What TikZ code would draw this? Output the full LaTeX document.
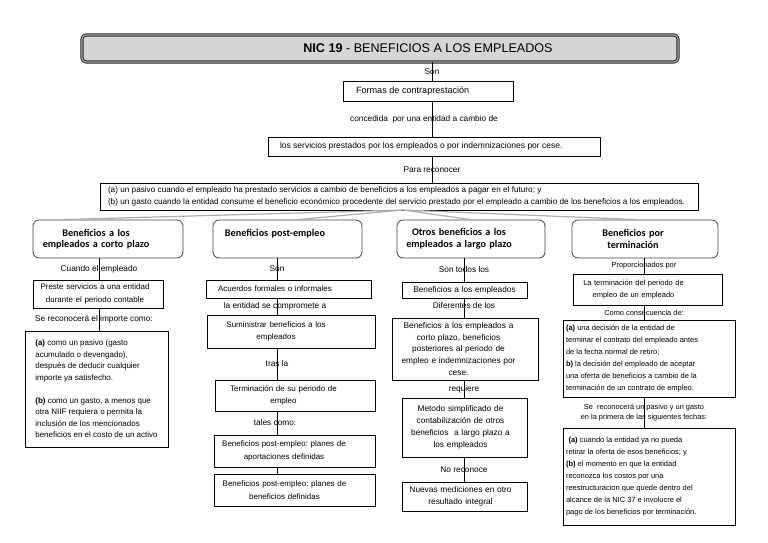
\documentclass[tikz,border=0pt]{standalone}
\usepackage{fontspec}
\setmainfont{Liberation Sans}
\newfontfamily\calibfont{Carlito}
\usetikzlibrary{positioning}
\frenchspacing

\tikzset{
  titlebar/.style = {draw=black!85, line width=0.9pt, double=gray!70, double distance=1.3pt,
    fill=gray!32, rounded corners=4pt, minimum width=596pt, minimum height=27pt,
    font=\fontsize{12.6}{15}\selectfont},
  box/.style = {draw, line width=0.7pt, fill=white, inner xsep=0pt, inner ysep=1pt,
    font=\fontsize{8}{12.5}\selectfont},
  box3/.style = {box, font=\fontsize{8.3}{11.8}\selectfont},
  box4/.style = {box, font=\fontsize{7.5}{12.1}\selectfont},
  cat/.style = {draw=black!75, line width=0.8pt, rounded corners=6pt, minimum height=38pt,
    inner xsep=0pt, font=\calibfont\bfseries\fontsize{10.2}{11.5}\selectfont},
  pushl/.style = {align=center, execute at begin node={%
    \leftskip=0pt plus 1fil\rightskip=#1 plus 1fil\parfillskip=0pt\relax}},
  lbl/.style = {inner sep=1pt, font=\fontsize{8.3}{9.5}\selectfont},
  lbl4/.style = {lbl, font=\fontsize{7.4}{9.5}\selectfont},
  link/.style = {line width=0.6pt},
  fan/.style = {draw=gray!65, line width=1.2pt}
}

\begin{document}
\begin{tikzpicture}[on grid]
  \useasboundingbox (0pt,0pt) rectangle (768pt,-543pt);

  \node[titlebar] (t_0) at (380pt,-48.5pt) {\hspace*{96pt}\textbf{NIC 19} - BENEFICIOS A LOS EMPLEADOS};
  \coordinate[right=52pt of t_0] (ax);
  \node[box, below=42.5pt of t_0, xshift=48pt, text width=144pt, inner xsep=13pt, align=flush left,
        minimum height=20pt, font=\fontsize{9.1}{11}\selectfont] (t_1) {Formas de contraprestación};
  \node[box, below=55.5pt of t_1, xshift=6pt, text width=308pt, inner xsep=12pt, align=flush left,
        minimum height=19pt, font=\fontsize{8.5}{10}\selectfont] (t_2)
        {los servicios prestados por los empleados o por indemnizaciones por cese.};
  \node[box, below=50pt of t_2, xshift=-35pt, text width=582pt, inner xsep=8pt, align=flush left,
        minimum height=27pt, font=\fontsize{8.2}{12.5}\selectfont] (t_3)
        {(a) un pasivo cuando el empleado ha prestado servicios a cambio de beneficios a los empleados a pagar en el futuro; y\\
         (b) un gasto cuando la entidad consume el beneficio económico procedente del servicio prestado por el empleado a cambio de los beneficios a los empleados.};
  \coordinate[below=13.5pt of t_3, xshift=4pt] (f);

  \node[cat, below left=42.5pt and 291pt of t_3, text width=150pt, pushl=24pt] (c_1) {Beneficios a los\\empleados a corto plazo};
  \node[cat, right=179.5pt of c_1, text width=149pt, pushl=25pt]               (c_2) {Beneficios post-empleo\\\mbox{}};
  \node[cat, right=183.5pt of c_2, text width=148pt, pushl=24pt]               (c_3) {Otros beneficios a los\\empleados a largo plazo};
  \node[cat, right=174pt of c_3, text width=146pt, pushl=24pt]                 (c_4) {Beneficios por\\terminación};
  \coordinate[left=9pt of c_1]    (k1);
  \coordinate[left=10.5pt of c_2] (k2);
  \coordinate[left=7pt of c_3]    (k3);
  \coordinate[left=1pt of c_4]    (k4);

  \node[box, below=55pt of c_1, xshift=-10pt, text width=130pt, pushl=6pt, minimum height=28pt] (c1_1)
        {Preste servicios a una entidad\\durante el periodo contable};
  \node[box, below=95pt of c1_1, xshift=-1.5pt, minimum width=143pt, minimum height=116pt, inner xsep=4pt,
        align=left, font=\fontsize{8}{11.5}\selectfont] (c1_2)
        {\textbf{(a)} como un pasivo (gasto\\acumulado o devengado),\\después de deducir cualquier\\importe ya satisfecho.\\[11.5pt]
         \textbf{(b)} como un gasto, a menos que\\otra NIIF requiera o permita la\\inclusión de los mencionados\\beneficios en el costo de un activo};

  \node[box, below=50pt of c_2, xshift=1.5pt, text width=165pt, pushl=28pt, minimum height=18pt] (c2_1)
        {Acuerdos formales o informales};
  \node[box, below=42.5pt of c2_1, xshift=2pt, text width=168pt, pushl=30pt, minimum height=33pt] (c2_2)
        {Suministrar beneficios a los\\empleados};
  \node[box, below=64pt of c2_2, xshift=4pt, text width=160pt, pushl=23pt, minimum height=31pt] (c2_3)
        {Terminación de su periodo de\\empleo};
  \node[box, below=55.5pt of c2_3, xshift=-0.5pt, text width=161pt, pushl=21pt, minimum height=32pt] (c2_4)
        {Beneficios post-empleo: planes de\\aportaciones definidas};
  \node[box, below=39pt of c2_4, text width=161pt, pushl=20pt, minimum height=32pt] (c2_5)
        {Beneficios post-empleo: planes de\\beneficios definidas};

  \node[box3, below=51pt of c_3, xshift=-6.5pt, text width=125pt, pushl=0pt, minimum height=16pt] (c3_1)
        {Beneficios a los empleados};
  \node[box3, below=59pt of c3_1, xshift=0.5pt, text width=146pt, pushl=13pt, minimum height=62pt] (c3_2)
        {Beneficios a los empleados a\\corto plazo, beneficios\\posteriores al periodo de\\empleo e indemnizaciones por\\cese.};
  \node[box3, below=78.5pt of c3_2, xshift=-0.5pt, text width=125pt, pushl=8pt, minimum height=59pt] (c3_3)
        {Metodo simplificado de\\contabilización de otros\\beneficios~ a largo plazo a\\los empleados};
  \node[box3, below=69pt of c3_3, text width=125pt, pushl=8pt, minimum height=29pt] (c3_4)
        {Nuevas mediciones en otro\\resultado integral};

  \node[box4, below=50.5pt of c_4, xshift=2.5pt, text width=149pt, pushl=28pt, minimum height=31pt] (c4_1)
        {La terminación del periodo de\\empleo de un empleado};
  \node[box4, below=69pt of c4_1, xshift=1.5pt, text width=166pt, inner xsep=3pt, align=flush left, minimum height=77pt] (c4_2)
        {\textbf{(a)} una decisión de la entidad de\\terminar el contrato del empleado antes\\de la fecha normal de retiro;\\
         \textbf{b)} la decisión del empleado de aceptar\\una oferta de beneficios a cambio de la\\terminación de un contrato de empleo.};
  \node[box4, below=118pt of c4_2, text width=166pt, inner xsep=3pt, align=flush left, minimum height=97pt] (c4_3)
        {\hspace*{2.5pt}\textbf{(a)} cuando la entidad ya no pueda\\retirar la oferta de esos beneficios; y\\
         \textbf{(b)} el momento en que la entidad\\reconozca los costos por una\\reestructuracion que quede dentro del\\
         alcance de la NIC 37 e involucre el\\pago de los beneficios por terminación.};

  \draw[fan] (f) -- ([xshift=-45pt]c_1.north)
             (f) -- ([xshift=10pt]c_2.north)
             (f) -- (c_3.north)
             (f) -- ([xshift=-8pt]c_4.north);

  \draw[link]
    (t_0.south -| ax) edge node[lbl] {Son} (t_1.north -| ax)
    (t_1.south -| ax) edge node[lbl, xshift=-8pt] {concedida~ por una entidad a cambio de} (t_2.north -| ax)
    (t_2.south -| ax) edge node[lbl] {Para reconocer} (t_3.north -| ax)
    (c_1.south -| k1) edge node[lbl] {Cuando el empleado} (c1_1.north -| k1)
    (c1_1.south -| k1) edge node[lbl, xshift=-5pt] {Se reconocerá el importe como:} (c1_2.north -| k1)
    (c_2.south -| k2) edge node[lbl] {Son} (c2_1.north -| k2)
    (c2_1.south -| k2) edge node[lbl, xshift=-2pt] {la entidad se compromete a} (c2_2.north -| k2)
    (c2_2.south -| k2) edge node[lbl] {tras la} (c2_3.north -| k2)
    (c2_3.south -| k2) edge node[lbl, xshift=-2pt] {tales como:} (c2_4.north -| k2)
    (c2_4.south -| k2) edge (c2_5.north -| k2)
    (c_3.south -| k3) edge node[lbl] {Son todos los} (c3_1.north -| k3)
    (c3_1.south -| k3) edge node[lbl, pos=0.35] {Diferentes de los} (c3_2.north -| k3)
    (c3_2.south -| k3) edge node[lbl] {requiere} (c3_3.north -| k3)
    (c3_3.south -| k3) edge node[lbl] {No reconoce} (c3_4.north -| k3)
    (c_4.south -| k4) edge node[lbl4] {Proporcionados por} (c4_1.north -| k4)
    (c4_1.south -| k4) edge node[lbl4] {Como consecuencia de:} (c4_2.north -| k4)
    (c4_2.south -| k4) edge node[lbl4, align=center] {Se~ reconocerá un pasivo y un gasto\\en la primera de las siguientes fechas:} (c4_3.north -| k4)
    ;
\end{tikzpicture}
\end{document}
